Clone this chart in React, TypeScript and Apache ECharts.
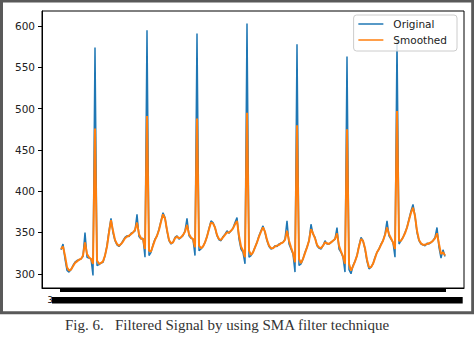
import React, { useEffect, useRef } from 'react';
import * as echarts from 'echarts';

const original = [
  329, 336, 318, 304, 302, 305, 310, 314, 316, 317, 318, 321, 350, 320, 319, 318, 298, 574, 310, 311,
  313, 314, 322, 334, 352, 367, 350, 340, 335, 333, 336, 340, 344, 346, 345, 349, 350, 352, 372, 345,
  342, 343, 320, 595, 322, 326, 335, 342, 346, 354, 364, 374, 368, 352, 340, 336, 338, 344, 346, 342,
  344, 346, 352, 367, 346, 343, 342, 322, 591, 328, 330, 333, 338, 345, 355, 364, 362, 356, 346, 341,
  340, 345, 348, 352, 349, 352, 355, 362, 368, 342, 330, 326, 312, 603, 320, 322, 326, 332, 338, 346,
  352, 358, 350, 340, 333, 330, 331, 334, 333, 336, 337, 338, 342, 364, 336, 330, 324, 302, 578, 310,
  312, 318, 326, 332, 340, 360, 348, 344, 334, 331, 330, 334, 340, 336, 336, 338, 340, 342, 356, 330,
  326, 320, 302, 563, 305, 300, 310, 315, 322, 334, 344, 340, 330, 315, 306, 308, 312, 320, 326, 330,
  336, 340, 348, 364, 346, 342, 338, 320, 582, 336, 340, 344, 350, 356, 366, 376, 384, 370, 350, 340,
  336, 335, 334, 337, 336, 338, 340, 344, 356, 332, 319, 329, 321,
];

const smoothed = [
  330, 333, 322, 308, 304, 305, 309, 313, 315, 317, 318, 322, 338, 324, 320, 318, 312, 476, 316, 312,
  313, 315, 322, 333, 350, 365, 352, 341, 336, 334, 336, 339, 343, 345, 346, 348, 350, 353, 362, 348,
  343, 342, 330, 491, 328, 327, 334, 341, 346, 353, 363, 372, 367, 353, 341, 337, 338, 343, 345, 343,
  344, 347, 351, 359, 348, 344, 342, 332, 488, 334, 331, 333, 338, 345, 354, 362, 361, 356, 347, 342,
  341, 344, 347, 350, 350, 352, 355, 360, 364, 346, 333, 328, 320, 495, 328, 323, 326, 332, 338, 345,
  351, 356, 351, 341, 334, 331, 331, 333, 334, 335, 337, 338, 341, 352, 340, 332, 325, 314, 480, 318,
  313, 318, 325, 332, 340, 354, 349, 343, 335, 332, 331, 334, 338, 337, 336, 338, 340, 342, 349, 334,
  327, 321, 312, 475, 312, 304, 309, 315, 322, 333, 342, 340, 331, 317, 308, 308, 312, 319, 326, 330,
  335, 340, 347, 356, 348, 343, 338, 330, 497, 340, 340, 344, 349, 356, 365, 374, 380, 370, 352, 341,
  337, 335, 335, 336, 337, 338, 340, 343, 349, 336, 324, 326, 322,
];

const yTicks = [300, 350, 400, 450, 500, 550, 600];
const seriesNames = ['Original', 'Smoothed'];
const captionLabel = 'Fig. 6.';
const captionText = 'Filtered Signal by using SMA filter technique';
const firstTickLabelGlyph = '3';

export default function App() {
  const ref = useRef<HTMLDivElement>(null);

  useEffect(() => {
    const chart = echarts.init(ref.current as HTMLDivElement, null, { renderer: 'svg' });
    const n = original.length;
    const idx = original.map((_, i) => i);
    chart.setOption({
      animation: false,
      grid: {
        left: 42,
        top: 11,
        right: 10,
        bottom: 68,
        show: true,
        borderColor: '#000',
        borderWidth: 1,
        backgroundColor: 'transparent',
      },
      legend: {
        data: seriesNames,
        orient: 'vertical',
        right: 17,
        top: 15,
        itemWidth: 25,
        itemHeight: 12,
        itemGap: 4,
        padding: [3, 10, 5, 4],
        backgroundColor: 'rgba(255,255,255,0.8)',
        borderColor: '#cccccc',
        borderWidth: 1,
        borderRadius: 3,
        itemStyle: { opacity: 0 },
        lineStyle: { width: 1.5 },
        textStyle: {
          fontFamily: 'DejaVu Sans',
          fontSize: 10.5,
          color: '#222',
          lineHeight: 12,
          padding: [0, 0, 0, 5],
        },
      },
      xAxis: {
        type: 'value',
        min: -9.5,
        max: n - 1 + 9.5,
        axisLine: { show: true, onZero: false, lineStyle: { color: '#000', width: 1 } },
        axisTick: { show: true, customValues: idx, length: 4, lineStyle: { color: '#000', width: 2 } },
        axisLabel: { show: false },
        splitLine: { show: false },
      },
      yAxis: {
        type: 'value',
        min: 282.75,
        max: 618.25,
        axisLine: { show: true, onZero: false, lineStyle: { color: '#000', width: 1 } },
        axisTick: { show: true, customValues: yTicks, length: 4, lineStyle: { color: '#000', width: 1 } },
        axisLabel: {
          customValues: yTicks,
          fontFamily: 'DejaVu Sans',
          fontSize: 10.5,
          color: '#222',
          margin: 7,
        },
        splitLine: { show: false },
      },
      series: [
        {
          name: seriesNames[0],
          type: 'line',
          data: original.map((v, i) => [i, v]),
          symbol: 'none',
          lineStyle: { color: '#1f77b4', width: 1.5 },
          itemStyle: { color: '#1f77b4' },
          z: 2,
        },
        {
          name: seriesNames[1],
          type: 'line',
          data: smoothed.map((v, i) => [i, v]),
          symbol: 'none',
          lineStyle: { color: '#ff7f0e', width: 2 },
          itemStyle: { color: '#ff7f0e' },
          z: 3,
        },
      ],
      graphic: [
        {
          type: 'rect',
          silent: true,
          shape: { x: 1.5, y: 1, width: 471.2, height: 311.8 },
          style: { fill: 'none', stroke: '#595959', lineWidth: 3 },
        },
        {
          type: 'text',
          silent: true,
          x: 47.5,
          y: 300.3,
          style: {
            text: firstTickLabelGlyph,
            fontFamily: 'DejaVu Sans',
            fontSize: 8.5,
            fill: '#000',
            align: 'left',
            verticalAlign: 'middle',
          },
        },
        {
          type: 'rect',
          silent: true,
          shape: { x: 52, y: 297, width: 410.7, height: 6.4 },
          style: { fill: '#000' },
        },
        {
          type: 'text',
          silent: true,
          x: 65,
          y: 325,
          style: {
            text: captionLabel,
            fontFamily: 'Liberation Serif',
            fontSize: 15,
            fill: '#333',
            align: 'left',
            verticalAlign: 'middle',
          },
        },
        {
          type: 'text',
          silent: true,
          x: 115,
          y: 325,
          style: {
            text: captionText,
            fontFamily: 'Liberation Serif',
            fontSize: 15,
            fill: '#333',
            align: 'left',
            verticalAlign: 'middle',
          },
        },
      ],
    });
    return () => chart.dispose();
  }, []);

  return (
    <div
      ref={ref}
      style={{ position: 'fixed', left: 0, top: 0, width: 474, height: 356, background: '#fff' }}
    />
  );
}
